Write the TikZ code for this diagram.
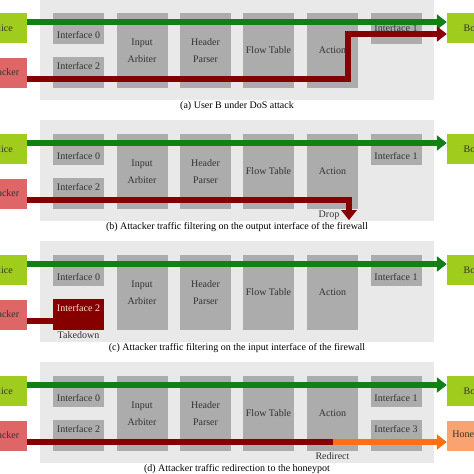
\documentclass[tikz,border=0pt]{standalone}
\usepackage{fontspec}
\setmainfont{Liberation Serif}
\usetikzlibrary{arrows.meta,positioning}

\definecolor{bgGray}{RGB}{233,233,233}
\definecolor{boxGray}{RGB}{172,172,172}
\definecolor{boxText}{RGB}{50,50,50}
\definecolor{userGreen}{RGB}{160,204,30}
\definecolor{attRed}{RGB}{222,102,102}
\definecolor{potOrange}{RGB}{250,162,112}
\definecolor{flowGreen}{RGB}{18,128,18}
\definecolor{flowRed}{RGB}{135,0,0}
\definecolor{flowOrange}{RGB}{255,112,20}

\begin{document}
\begin{tikzpicture}[x=1pt,y=-1pt, line join=miter,
  font=\fontsize{10}{12}\selectfont,
  stage/.style={fill=boxGray, text=boxText, inner sep=0pt, minimum width=51pt,
    align=center, font=\fontsize{10}{17}\selectfont},
  port/.style={stage, minimum height=31pt},
  lowtext/.style={port, text height=20pt, text depth=0pt},  % text pushed down
  hightext/.style={port, text height=7pt, text depth=13pt}, % text pushed up
  downed/.style={hightext, fill=flowRed, text=red!12},
  block/.style={stage, minimum height=75pt},
  host/.style={inner sep=0pt, minimum width=50pt, minimum height=30pt, text=boxText},
  note/.style={inner sep=0pt, text=black!80},
  flow/.style={line width=6pt, -{Triangle[length=10pt,width=15pt]}},
  greenflow/.style={flow, draw=flowGreen, color=flowGreen},
  redflow/.style={flow, draw=flowRed, color=flowRed},
  orangeflow/.style={flow, draw=flowOrange, color=flowOrange},
  cut/.style={line width=6pt, draw=flowRed}]

% -----------------------------
% Parameters
% -----------------------------
\def\gap{121}      % vertical distance between panels
\def\up{6pt}       % green flow above host centre
\def\dn{6.5pt}     % red flow below host centre

\useasboundingbox (0,0) rectangle (474,474);

% -----------------------------
% Common part of the four panels
% -----------------------------
\foreach \p/\i/\lbl/\ifstyle/\ofstyle in {
    a/0/{(a) User B under DoS attack}/hightext/port,
    b/1/{(b) Attacker traffic filtering on the output interface of the firewall}/hightext/lowtext,
    c/2/{(c) Attacker traffic filtering on the input interface of the firewall}/downed/lowtext,
    d/3/{(d) Attacker traffic redirection to the honeypot}/hightext/lowtext} {%
  \pgfmathsetmacro{\T}{-1+\gap*\i}
  \fill[bgGray] (40,\T) rectangle (434,\T+101);
  \node (alice-\p) [host, fill=userGreen] at (2,\T+29) {Alice};
  \node (att-\p) [host, fill=attRed] at (2,\T+73.5) {Attacker};
  \node (bob-\p) [host, fill=userGreen] at (472,\T+29) {Bob};
  \node (if0-\p) [lowtext] at (78.5,\T+29.5) {Interface 0};
  \node (if2-\p) [\ifstyle] at (78.5,\T+73.5) {Interface 2};
  \node (arb-\p) [block] at (142,\T+51.5) {Input\\Arbiter};
  \node (hdr-\p) [block] at (205.5,\T+51.5) {Header\\Parser};
  \node (tab-\p) [block] at (268.5,\T+51.5) {Flow Table};
  \node (act-\p) [block] at (332.5,\T+51.5) {Action};
  \node (if1-\p) [\ofstyle] at (396,\T+29.5) {Interface 1};
  \node (cap-\p) [note, text=black] at (237,\T+107) {\lbl};
  % green flow on top
  \draw[greenflow] ([yshift=\up]alice-\p.east) -- ([yshift=\up]bob-\p.west);
}

% -----------------------------
% (a) attacker floods Bob
% -----------------------------
\coordinate (in-a) at ([yshift=-\up]bob-a.west);
\coordinate (turn-a) at ([xshift=15pt]act-a.center);
\draw[redflow] ([yshift=-\dn]att-a.east) -| (turn-a |- in-a) -- (in-a);

% -----------------------------
% (b) dropped at the output
% -----------------------------
\coordinate (drop-b) at ([xshift=16.5pt,yshift=-11pt]act-b.south);
\draw[redflow] ([yshift=-\dn]att-b.east) -| (drop-b);
\node (droplbl) [note] at ([xshift=-20pt,yshift=5pt]drop-b) {Drop};

% -----------------------------
% (c) taken down at the input
% -----------------------------
\draw[cut] ([yshift=-\dn]att-c.east) -- ([yshift=-\dn]if2-c.west);
\node (takedown) [note, below=1pt of if2-c] {Takedown};

% -----------------------------
% (d) redirected to the honeypot
% -----------------------------
\node (if3-d) [hightext] at (if1-d |- if2-d) {Interface 3};
\node (pot-d) [host, fill=potOrange] at (bob-d |- att-d) {Honeypot};
\coordinate (in-d) at ([yshift=-\dn]pot-d.west);
\coordinate (split-d) at (act-d |- in-d);
\draw[cut] ([yshift=-\dn]att-d.east) -- (split-d);
\draw[orangeflow] (split-d) -- (in-d);
\node (redirect) [note, below=1pt of act-d] {Redirect};

\end{tikzpicture}
\end{document}
